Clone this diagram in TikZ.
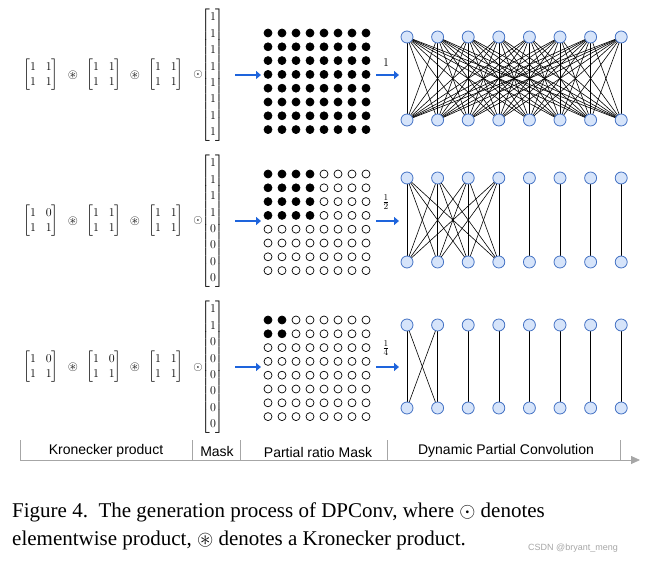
\documentclass[tikz,border=0pt]{standalone}
\usepackage{amsmath,amssymb}
\usepackage{fontspec}
\newfontfamily\arialf{Liberation Sans}
\newfontfamily\timesf{Liberation Serif}
\usetikzlibrary{arrows.meta}
\definecolor{nfill}{RGB}{214,228,250}
\definecolor{ndraw}{RGB}{68,114,196}
\definecolor{arr}{RGB}{30,100,220}
\begin{document}
\begin{tikzpicture}[x=1pt,y=-1pt,
  neuron/.style={circle,draw=ndraw,fill=nfill,line width=0.8pt,minimum size=12pt,inner sep=0pt},
  dotf/.style={circle,fill=black,draw=black,minimum size=8pt,inner sep=0pt,line width=0.7pt},
  doto/.style={circle,fill=white,draw=black,minimum size=8pt,inner sep=0pt,line width=0.7pt},
  bluearrow/.style={draw=arr,line width=2.6pt,-{Triangle[length=5pt,width=8pt]}},
  conn/.style={line width=0.6pt},
  mtx/.style={font=\fontsize{13}{15}\selectfont,inner sep=0pt},
  vec/.style={font=\fontsize{13}{16.4}\selectfont,inner sep=0pt},
  lab/.style={font=\arialf\fontsize{14}{16}\selectfont},
  tick/.style={draw=gray!70,line width=0.8pt}]
\useasboundingbox (0,0) rectangle (655,561);
\foreach \r/\cy/\aa/\ab/\ba/\bb in {1/75/1/1/1/1,2/221/0/1/1/1,3/367/0/1/0/1}{
  \node[mtx] (m1\r) at (41,\cy) {$\begin{bmatrix}1&\aa\\\ab&1\end{bmatrix}$};
  \node[mtx] (o1\r) at (73,\cy) {$\circledast$};
  \node[mtx] (m2\r) at (104,\cy) {$\begin{bmatrix}1&\ba\\\bb&1\end{bmatrix}$};
  \node[mtx] (o2\r) at (135,\cy) {$\circledast$};
  \node[mtx] (m3\r) at (166,\cy) {$\begin{bmatrix}1&1\\1&1\end{bmatrix}$};
  \node[mtx] (o3\r) at (198,\cy) {$\odot$};
}
\node[vec] (v1) at (213,75) {$\begin{bmatrix}1\\1\\1\\1\\1\\1\\1\\1\end{bmatrix}$};
\node[vec] (v2) at (213,221) {$\begin{bmatrix}1\\1\\1\\1\\0\\0\\0\\0\end{bmatrix}$};
\node[vec] (v3) at (213,367) {$\begin{bmatrix}1\\1\\0\\0\\0\\0\\0\\0\end{bmatrix}$};
% grids
\foreach \r/\top/\k in {1/33/8,2/174/4,3/320/2}{
  \foreach \i in {0,...,7}{\foreach \j in {0,...,7}{
    \pgfmathtruncatemacro{\ff}{(\i<\k)&&(\j<\k)}
    \ifnum\ff=1 \node[dotf] (g\r-\i-\j) at (268+14*\i,\top+13.8*\j) {};
    \else \node[doto] (g\r-\i-\j) at (268+14*\i,\top+13.8*\j) {};\fi
  }}
}
% neurons
\foreach \r/\ty/\by in {1/37/120,2/178/262,3/325/408}{
  \foreach \i in {0,...,7}{
    \coordinate (tp\r-\i) at (407+30.6*\i,\ty);
    \coordinate (bp\r-\i) at (407+30.6*\i,\by);
  }
}
\foreach \r/\k in {1/8,2/4,3/2}{
  \pgfmathtruncatemacro{\km}{\k-1}
  \foreach \i in {0,...,\km}{\foreach \j in {0,...,\km}{\draw[conn] (tp\r-\i) -- (bp\r-\j);}}
  \ifnum\k<8
    \foreach \i in {\k,...,7}{\draw[conn] (tp\r-\i) -- (bp\r-\i);}
  \fi
}
\foreach \r in {1,2,3}{\foreach \i in {0,...,7}{
  \node[neuron] (t\r-\i) at (tp\r-\i) {};
  \node[neuron] (b\r-\i) at (bp\r-\i) {};
}}
% arrows and ratios
\foreach \r/\cy in {1/75,2/221,3/367}{
  \coordinate (a1s\r) at (235,\cy); \coordinate (a1e\r) at (261,\cy);
  \draw[bluearrow] (a1s\r) -- (a1e\r);
  \coordinate (a2s\r) at (376,\cy); \coordinate (a2e\r) at (399,\cy);
  \draw[bluearrow] (a2s\r) -- (a2e\r);
}
\node[mtx] (rt1) at (386,63) {$1$};
\node[mtx] (rt2) at (386,202) {$\frac{1}{2}$};
\node[mtx] (rt3) at (386,348) {$\frac{1}{4}$};
% axis
\coordinate (ax0) at (20,460); \coordinate (ax1) at (640,460);
\draw[tick,-{Triangle[length=9pt,width=8pt]}] (ax0) -- (ax1);
\foreach \x/\n in {20/a,192/b,240/c,387/d,620/e}{
  \coordinate (tk\n) at (\x,440); \coordinate (tb\n) at (\x,460);
  \draw[tick] (tk\n) -- (tb\n);
}
\node[lab] (l1) at (106,451) {Kronecker product};
\node[lab] (l2) at (217,451) {Mask};
\node[lab] (l3) at (318,452) {Partial ratio Mask};
\node[lab] (l4) at (506,451) {Dynamic Partial Convolution};
% caption
\node[anchor=west,inner sep=0pt,font=\timesf\fontsize{21}{24}\selectfont] (c1) at (12,512) {Figure 4.\ \ The generation process of DPConv, where $\odot$ denotes};
\node[anchor=west,inner sep=0pt,font=\timesf\fontsize{21}{24}\selectfont] (c2) at (12,540) {elementwise product, $\circledast$ denotes a Kronecker product.};
\node[anchor=west,inner sep=0pt,text=gray!70,font=\arialf\fontsize{9}{10}\selectfont] (wm) at (528,548) {CSDN @bryant\_meng};
\end{tikzpicture}
\end{document}
